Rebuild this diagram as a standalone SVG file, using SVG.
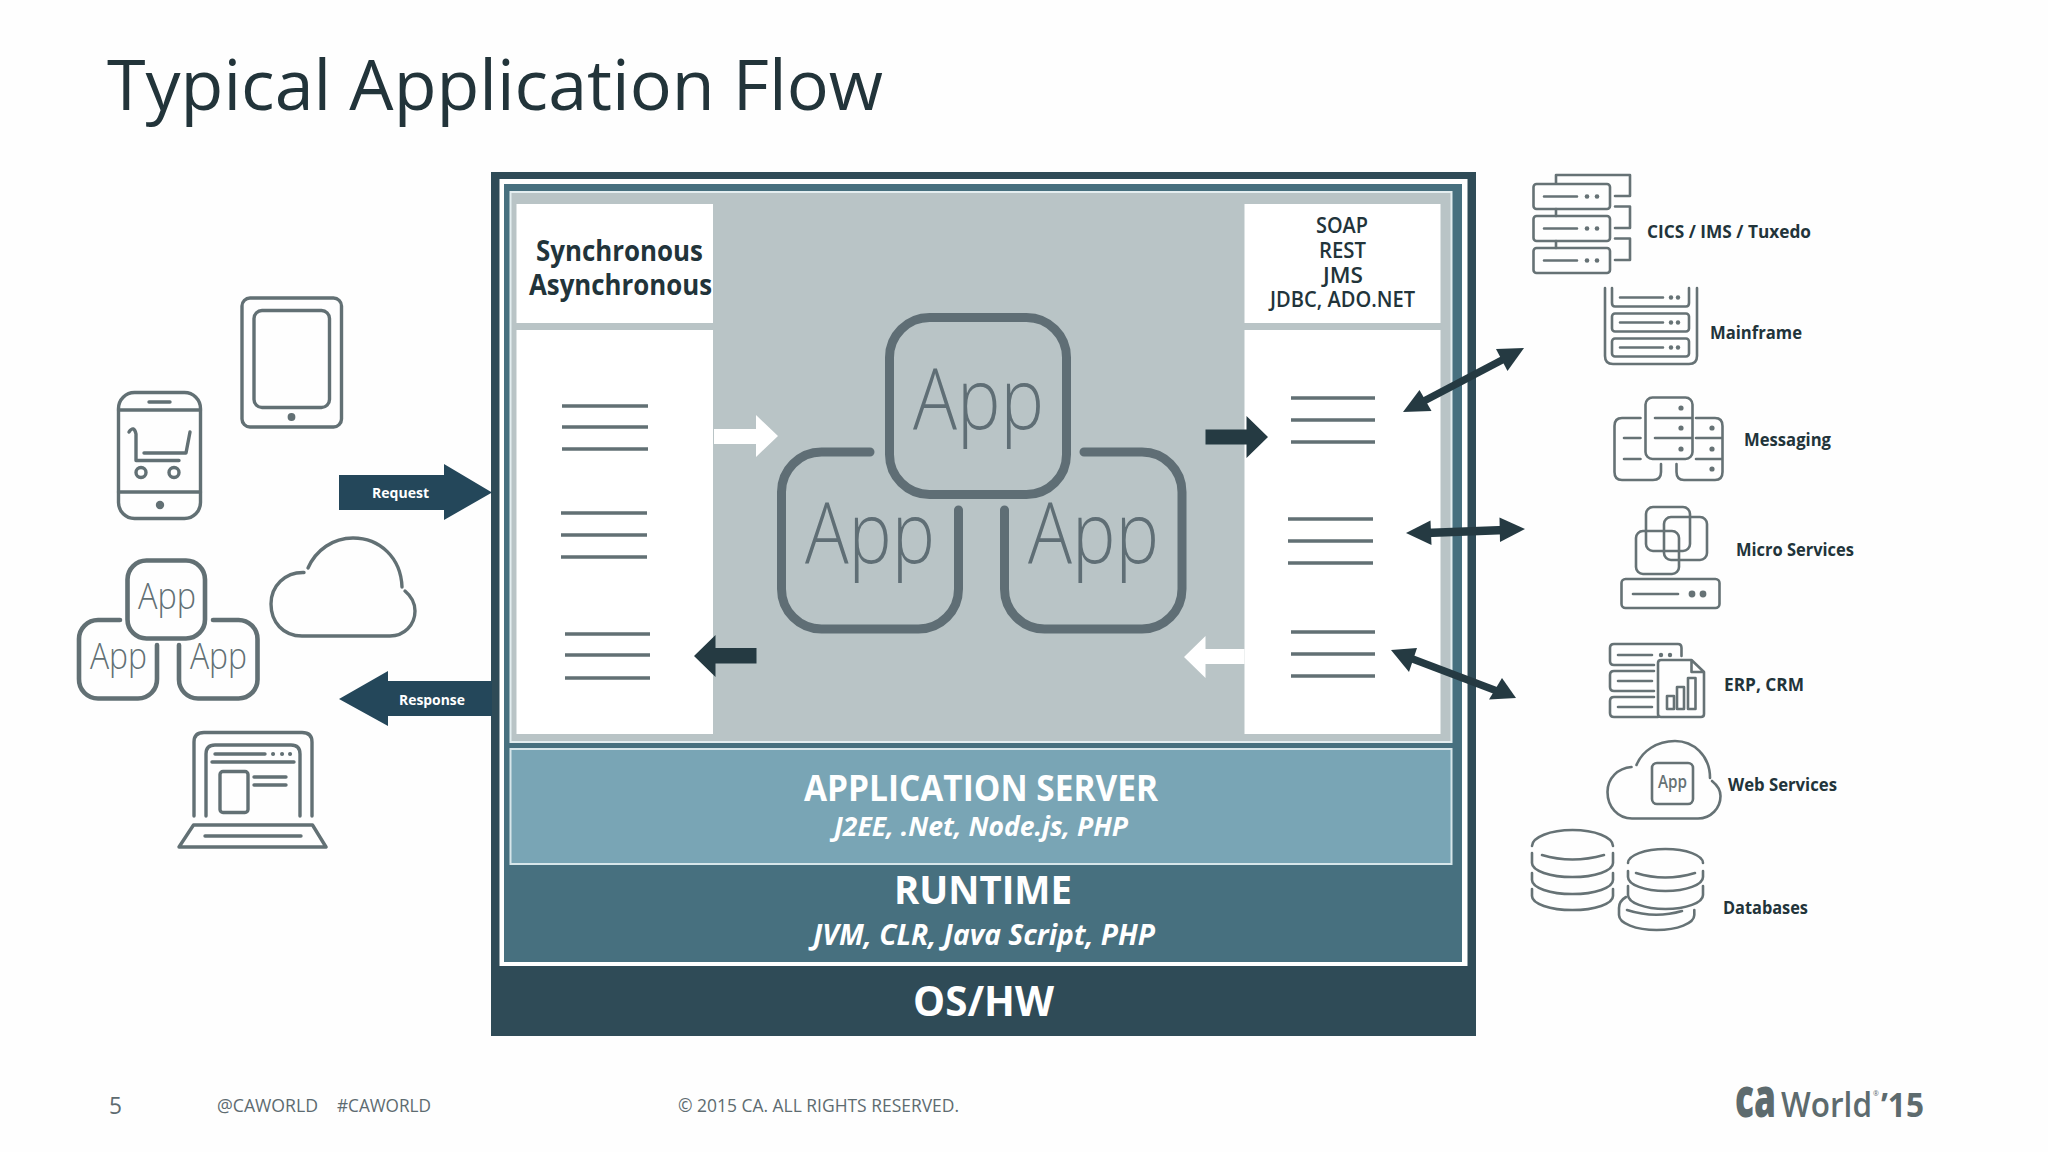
<svg xmlns="http://www.w3.org/2000/svg" width="2048" height="1152" viewBox="0 0 2048 1152">
<style>
text{font-family:"Open Sans","Liberation Sans",sans-serif;}
.ic{fill:none;stroke:#667275;stroke-width:2.6;stroke-linecap:round;stroke-linejoin:round;}
.ic2{fill:none;stroke:#627074;stroke-width:3.4;stroke-linecap:round;stroke-linejoin:round;}
.big{fill:none;stroke:#5f6e75;stroke-width:9;stroke-linecap:round;stroke-linejoin:round;}
.sm{fill:none;stroke:#627074;stroke-width:4.6;stroke-linecap:round;stroke-linejoin:round;}
.dot{fill:#667275;stroke:none;}
.list{stroke:#627074;stroke-width:3.4;stroke-linecap:butt;fill:none;}
.lab{font-size:18px;font-weight:700;fill:#22343a;}
.sw{font-size:14px;font-weight:700;fill:#fff;}
.foot{font-size:18px;fill:#5d6b70;}
.dbl{stroke:#253a42;fill:none;}
.hd{fill:#253a42;stroke:none;}
.w{fill:#fff;font-weight:700;}
</style>
<rect width="2048" height="1152" fill="#fefefe"/>
<text id="title" x="107" y="110" font-size="70" fill="#22343a" textLength="776" lengthAdjust="spacingAndGlyphs">Typical Application Flow</text>

<g id="stack">
<rect x="491" y="172" width="985" height="864" fill="#2f4b57"/>
<rect x="499.5" y="179" width="968" height="787" fill="#fff"/>
<rect x="504" y="184" width="958" height="778" fill="#47707f"/>
<rect x="510.5" y="192" width="941" height="550" fill="#b9c4c6" stroke="#e4eef0" stroke-width="2"/>
<rect x="510.5" y="749" width="941" height="115" fill="#79a5b5" stroke="#d7e6ea" stroke-width="2"/>
</g>
<g id="panel-sync">
<rect x="516.5" y="204" width="196.5" height="119" fill="#fff"/>
<text x="536" y="261" font-size="29" font-weight="700" fill="#22343a" textLength="167" lengthAdjust="spacingAndGlyphs">Synchronous</text>
<text x="529" y="295" font-size="29" font-weight="700" fill="#22343a" textLength="183" lengthAdjust="spacingAndGlyphs">Asynchronous</text>
</g>
<g id="panel-left">
<rect x="516.5" y="330" width="196.5" height="404" fill="#fff"/>
<path class="list" d="M562 406H648M562 427H648M562 449H648M561 513H647M561 535H647M561 557H647M565 634H650M565 655H650M565 678H650"/>
</g>
<g id="panel-proto">
<rect x="1244.5" y="204" width="196" height="119" fill="#fff"/>
<g font-size="21" font-weight="600" fill="#22343a">
<text x="1316" y="233" textLength="52" lengthAdjust="spacingAndGlyphs">SOAP</text>
<text x="1319" y="258" textLength="47" lengthAdjust="spacingAndGlyphs">REST</text>
<text x="1323" y="283" textLength="40" lengthAdjust="spacingAndGlyphs">JMS</text>
<text x="1270" y="307" textLength="145" lengthAdjust="spacingAndGlyphs">JDBC, ADO.NET</text>
</g>
</g>
<g id="panel-right">
<rect x="1244.5" y="330" width="196" height="404" fill="#fff"/>
<path class="list" d="M1291 398H1375M1291 420H1375M1291 442H1375M1288 519H1373M1288 541H1373M1288 563H1373M1291 632H1375M1291 654H1375M1291 676H1375"/>
</g>
<g id="app-cluster">
<path class="big" d="M929.5 317.5H1026.5A40 40 0 0 1 1066.5 357.5V454.5A40 40 0 0 1 1026.5 494.5H929.5A40 40 0 0 1 889.5 454.5V357.5A40 40 0 0 1 929.5 317.5Z"/>
<path class="big" d="M870 452H821.5A40 40 0 0 0 781.5 492V589A40 40 0 0 0 821.5 629H918.5A40 40 0 0 0 958.5 589V510"/>
<path class="big" d="M1084 452H1142A40 40 0 0 1 1182 492V589A40 40 0 0 1 1142 629H1044.5A40 40 0 0 1 1004.5 589V510"/>
<g font-size="84" font-weight="300" fill="#5f6e75">
<text x="913" y="429" textLength="131" lengthAdjust="spacingAndGlyphs">App</text>
<text x="805" y="563" textLength="130" lengthAdjust="spacingAndGlyphs">App</text>
<text x="1028" y="563" textLength="131" lengthAdjust="spacingAndGlyphs">App</text>
</g>
</g>
<g id="layer-text">
<text class="w" x="804" y="801" font-size="35" textLength="354" lengthAdjust="spacingAndGlyphs">APPLICATION SERVER</text>
<text class="w" x="834" y="836" font-size="26" font-style="italic" textLength="294" lengthAdjust="spacingAndGlyphs">J2EE, .Net, Node.js, PHP</text>
<text class="w" x="894" y="904" font-size="39" textLength="178" lengthAdjust="spacingAndGlyphs">RUNTIME</text>
<text class="w" x="813" y="945" font-size="28" font-style="italic" textLength="342" lengthAdjust="spacingAndGlyphs">JVM, CLR, Java Script, PHP</text>
<text class="w" x="913" y="1016" font-size="41" textLength="141" lengthAdjust="spacingAndGlyphs">OS/HW</text>
</g>

<g id="connectors">
<polygon fill="#24475a" points="339,475 444,475 444,464 492,492.5 444,520 444,510 339,510"/>
<polygon fill="#24475a" points="339,699 388,671 388,681 492,681 492,716 388,716 388,726"/>
<polygon fill="#fff" points="714,429 756,429 756,415 778,436 756,457 756,444 714,444"/>
<polygon fill="#253a42" points="1205.5,429.5 1246.5,429.5 1246.5,416 1268,437 1246.5,458 1246.5,444.5 1205.5,444.5"/>
<polygon fill="#253a42" points="756.5,648 715.5,648 715.5,635 694,656 715.5,677 715.5,663.5 756.5,663.5"/>
<polygon fill="#fff" points="1244.5,649 1205.5,649 1205.5,636 1184,657 1205.5,678 1205.5,664 1244.5,664"/>
<line class="dbl" stroke-width="7.5" x1="1424" y1="401" x2="1504" y2="359"/>
<polygon class="hd" points="1524,348 1496,349 1507.5,371"/>
<polygon class="hd" points="1403,412 1419.5,390 1431.5,411"/>
<line class="dbl" stroke-width="8.5" x1="1426" y1="533" x2="1505" y2="530"/>
<polygon class="hd" points="1406,533 1430.5,520.5 1431.5,545"/>
<polygon class="hd" points="1525,529 1499.5,517.5 1500,542"/>
<line class="dbl" stroke-width="7.5" x1="1410" y1="658" x2="1497" y2="691"/>
<polygon class="hd" points="1391,650 1417,648 1409,672"/>
<polygon class="hd" points="1516,698 1502,678 1489,699.5"/>
<text class="sw" x="372" y="498" textLength="57" lengthAdjust="spacingAndGlyphs">Request</text>
<text class="sw" x="399" y="704.5" textLength="66" lengthAdjust="spacingAndGlyphs">Response</text>
</g>

<g id="tablet" class="ic2">
<rect x="242" y="298" width="99.5" height="129" rx="8"/>
<rect x="254" y="310.5" width="75.5" height="97" rx="8"/>
<circle cx="291.5" cy="417" r="2.2" fill="#627074"/>
</g>
<g id="phone" class="ic2">
<rect x="118.5" y="392.5" width="82" height="126" rx="16"/>
<path d="M118.5 410H200.5M118.5 492H200.5M149 402H170"/>
<circle cx="160" cy="505" r="4.2" fill="#627074" stroke="none"/>
<path d="M129 432Q134 425 136 434V460.5H179M144 453H186L190 432"/>
<circle cx="141" cy="472.5" r="5"/><circle cx="174" cy="472.5" r="5"/>
</g>
<g id="apps-small">
<rect class="sm" x="127.5" y="560.5" width="77.5" height="78" rx="19"/>
<path class="sm" d="M120 620H98A19 19 0 0 0 79 639V679A19 19 0 0 0 98 698.5H138A19 19 0 0 0 157 679V645"/>
<path class="sm" d="M213 620H238A19 19 0 0 1 257.5 639V679A19 19 0 0 1 238 698.5H198A19 19 0 0 1 179 679V645"/>
<g font-size="37" font-weight="300" fill="#627074">
<text x="138" y="609" textLength="58" lengthAdjust="spacingAndGlyphs">App</text>
<text x="90" y="669" textLength="57" lengthAdjust="spacingAndGlyphs">App</text>
<text x="190" y="669" textLength="57" lengthAdjust="spacingAndGlyphs">App</text>
</g>
</g>
<g id="cloud" class="ic2">
<path d="M304 572.5C285 572 271 586 271 604C271 622 283 636 302 636H390C404 636 415 625 415 611C415 602 411 596 405 591"/>
<path d="M308 568C316 550 333 538 353 538C380 538 401 558 402 587"/>
</g>
<g id="laptop" class="ic2">
<path d="M194 816V742Q194 732.5 204 732.5H302Q312 732.5 312 742V816"/>
<path d="M206 816V754Q206 745 215 745H291Q300 745 300 754V816"/>
<path d="M215 754H265M212 762H294M254 777H286M254 785H286"/>
<path d="M273 754h.1M282 754h.1M290 754h.1" stroke-width="4"/>
<rect x="220" y="771.5" width="28" height="41" rx="3"/>
<path d="M193.5 825H312.5L326 847H179ZM205 836H301"/>
</g>

<g id="cics" class="ic">
<rect x="1533.5" y="184" width="76.5" height="25" rx="3"/>
<rect x="1533.5" y="216" width="76.5" height="25" rx="3"/>
<rect x="1533.5" y="248" width="76.5" height="25" rx="3"/>
<path d="M1544 196.5H1577M1544 228.5H1577M1544 260.5H1577"/>
<path d="M1556 183V175H1630V196H1615M1615 206.5H1630V228H1615M1615 238.5H1630V260H1615M1556 209V216M1556 241V248"/>
<g class="dot"><circle cx="1587" cy="196.5" r="2.3"/><circle cx="1597" cy="196.5" r="2.3"/><circle cx="1587" cy="228.5" r="2.3"/><circle cx="1597" cy="228.5" r="2.3"/><circle cx="1587" cy="260.5" r="2.3"/><circle cx="1597" cy="260.5" r="2.3"/></g>
<text class="lab" stroke="none" x="1647" y="237.5" textLength="164" lengthAdjust="spacingAndGlyphs">CICS / IMS / Tuxedo</text>
</g>
<g id="mainframe" class="ic">
<path d="M1605 288V356Q1605 364 1613 364H1689Q1697 364 1697 356V288"/>
<path d="M1612 288V303Q1612 306.5 1615 306.5H1686Q1689 306.5 1689 303V288"/>
<rect x="1612" y="313.5" width="77" height="18" rx="3"/>
<rect x="1612" y="338.5" width="77" height="18" rx="3"/>
<path d="M1620 297.5H1663M1620 322.5H1663M1620 347.5H1663"/>
<g class="dot"><circle cx="1671" cy="297.5" r="2.2"/><circle cx="1678" cy="297.5" r="2.2"/><circle cx="1671" cy="322.5" r="2.2"/><circle cx="1678" cy="322.5" r="2.2"/><circle cx="1671" cy="347.5" r="2.2"/><circle cx="1678" cy="347.5" r="2.2"/></g>
<text class="lab" stroke="none" x="1710" y="338.5" textLength="92" lengthAdjust="spacingAndGlyphs">Mainframe</text>
</g>
<g id="messaging" class="ic">
<rect x="1645.5" y="397.5" width="47" height="61.5" rx="7"/>
<path d="M1655 418H1692M1655 438H1692"/>
<path d="M1640.5 418H1622Q1614.5 418 1614.5 426V472Q1614.5 480 1622 480H1653Q1661 480 1661 472V464M1624 438H1640.5M1624 459H1640.5"/>
<path d="M1696 418H1715Q1722.5 418 1722.5 426V472Q1722.5 480 1715 480H1684Q1676.5 480 1676.5 472V464M1696 438H1722.5M1696 459H1722.5"/>
<g class="dot"><circle cx="1681" cy="408" r="2.6"/><circle cx="1681" cy="428" r="2.6"/><circle cx="1681" cy="449" r="2.6"/><circle cx="1712" cy="428" r="2.6"/><circle cx="1712" cy="449" r="2.6"/><circle cx="1712" cy="469" r="2.6"/></g>
<text class="lab" stroke="none" x="1744" y="445.5" textLength="87" lengthAdjust="spacingAndGlyphs">Messaging</text>
</g>
<g id="microservices" class="ic">
<rect x="1646" y="507" width="44" height="44" rx="7"/>
<rect x="1664" y="517" width="43" height="43" rx="7"/>
<rect x="1636" y="531" width="43" height="43" rx="7"/>
<rect x="1621.5" y="579" width="98" height="29" rx="4"/>
<path d="M1633 594H1678"/>
<g class="dot"><circle cx="1692" cy="594" r="3.4"/><circle cx="1703" cy="594" r="3.4"/></g>
<text class="lab" stroke="none" x="1736" y="556" textLength="118" lengthAdjust="spacingAndGlyphs">Micro Services</text>
</g>
<g id="erp" class="ic">
<path d="M1654 665H1614Q1610 665 1610 661V648Q1610 644 1614 644H1678Q1681.5 644 1681.5 648V656"/>
<path d="M1654 671H1614Q1610 671 1610 675V687Q1610 691 1614 691H1654"/>
<path d="M1654 697H1614Q1610 697 1610 701V713Q1610 717 1614 717H1658"/>
<path d="M1618 655H1652M1618 681H1652M1618 707H1652"/>
<path d="M1691.5 660H1661Q1658 660 1658 663V714Q1658 717 1661 717H1701Q1704 717 1704 714V672ZM1691.5 660V672H1704"/>
<rect x="1667" y="696" width="7" height="13"/><rect x="1677" y="687" width="7" height="22"/><rect x="1688" y="678" width="7.5" height="31"/>
<g class="dot"><circle cx="1661" cy="655" r="2.2"/><circle cx="1670" cy="655" r="2.2"/></g>
<text class="lab" stroke="none" x="1724" y="690.5" textLength="80" lengthAdjust="spacingAndGlyphs">ERP, CRM</text>
</g>
<g id="webservices" class="ic">
<path d="M1631.5 767C1618 768 1607.5 778 1607.5 792C1607.5 807 1618 818.5 1632 818.5H1698C1711 818.5 1720.5 808 1720.5 796C1720.5 790 1717 785 1712 781"/>
<path d="M1636.5 765C1642 751 1657 741 1675 741C1693 741 1710 755 1710 778"/>
<rect x="1652" y="763" width="41" height="41" rx="5"/>
<text x="1658" y="788" font-size="18" font-weight="600" fill="#667275" stroke="none" textLength="29" lengthAdjust="spacingAndGlyphs">App</text>
<text class="lab" stroke="none" x="1728" y="791" textLength="109" lengthAdjust="spacingAndGlyphs">Web Services</text>
</g>
<g id="databases" class="ic">
<path d="M1532 846A40.5 16 0 0 1 1613 846M1542 855Q1572 864 1604 855M1532 853V863A40.5 14 0 0 0 1613 863V853M1532 873V880A40.5 14 0 0 0 1613 880V873M1532 889V896A40.5 14 0 0 0 1613 896V889"/>
<path d="M1628 863A37.5 14 0 0 1 1703 863M1636 873Q1665 882 1695 873M1628 871V877A37.5 14 0 0 0 1703 877V871M1628 886V895A37.5 14 0 0 0 1703 895V886"/>
<path d="M1626 897Q1619 901 1619 908V915A37.6 15 0 0 0 1694.3 915V910M1627 910Q1655 919 1682 911"/>
<text class="lab" stroke="none" x="1723" y="913.5" textLength="85" lengthAdjust="spacingAndGlyphs">Databases</text>
</g>

<g id="footer">
<text class="foot" x="109" y="1113.5" style="font-size:24px" textLength="13" lengthAdjust="spacingAndGlyphs">5</text>
<text class="foot" x="217" y="1112" textLength="101" lengthAdjust="spacingAndGlyphs">@CAWORLD</text>
<text class="foot" x="337" y="1112" textLength="94" lengthAdjust="spacingAndGlyphs">#CAWORLD</text>
<text class="foot" x="678" y="1112" textLength="281" lengthAdjust="spacingAndGlyphs">© 2015 CA. ALL RIGHTS RESERVED.</text>
</g>
<g id="logo" fill="#5d6b6e">
<text x="1735" y="1117" font-size="54" font-weight="800" textLength="41" lengthAdjust="spacingAndGlyphs">ca</text>
<text x="1781" y="1117" font-size="34" font-weight="600" textLength="91" lengthAdjust="spacingAndGlyphs">World</text>
<text x="1873" y="1096" font-size="7">®</text>
<text x="1881" y="1117" font-size="34" font-weight="700" textLength="43" lengthAdjust="spacingAndGlyphs">’15</text>
</g>
</svg>
